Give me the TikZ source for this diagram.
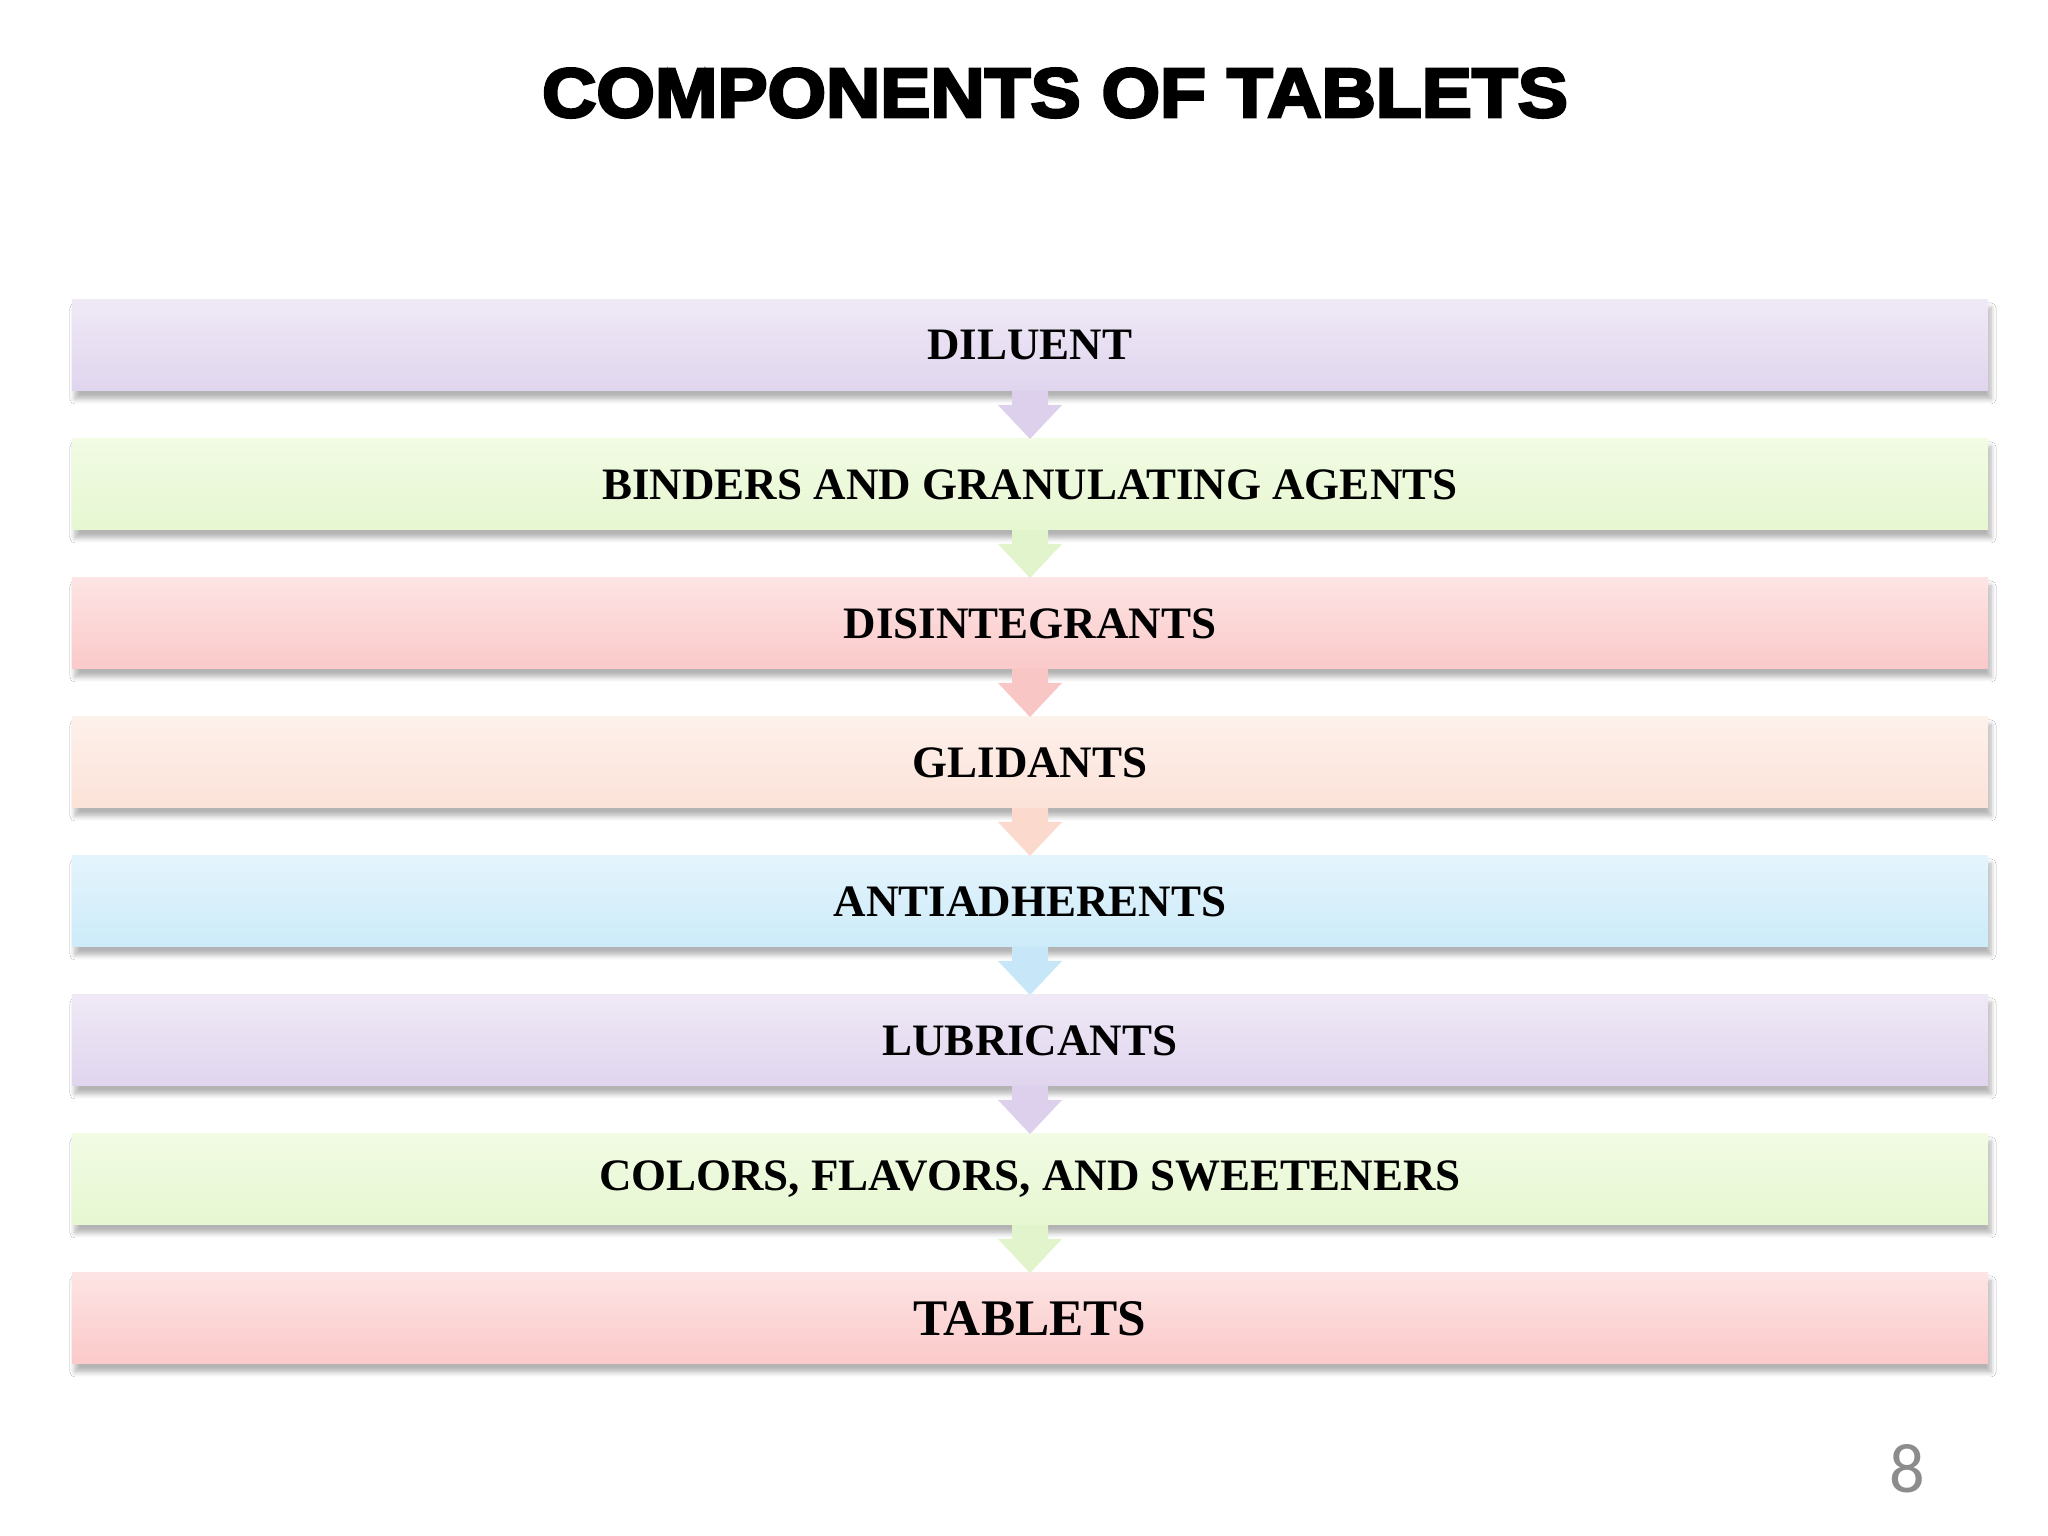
\documentclass[tikz,border=0pt]{standalone}
\usepackage{fontspec}
\setmainfont{Liberation Serif}
\newfontfamily\titlefont{Liberation Sans}[BoldFeatures={FakeBold=4},FakeStretch=1.08]
\newfontfamily\numfont{Carlito}
\usetikzlibrary{positioning,shadows.blur}

\definecolor{lavtop}{HTML}{EFE9F6}
\definecolor{lavbot}{HTML}{E0D5EE}
\definecolor{lavarrow}{HTML}{DCD0EC}
\definecolor{grntop}{HTML}{F2FBE4}
\definecolor{grnbot}{HTML}{E6F7D1}
\definecolor{grnarrow}{HTML}{E2F4CB}
\definecolor{pnktop}{HTML}{FDE4E4}
\definecolor{pnkbot}{HTML}{FBC9C9}
\definecolor{pnkarrow}{HTML}{F9C6C6}
\definecolor{pchtop}{HTML}{FDF1EB}
\definecolor{pchbot}{HTML}{FCE2D8}
\definecolor{pcharrow}{HTML}{FBDACD}
\definecolor{blutop}{HTML}{E4F4FC}
\definecolor{blubot}{HTML}{CCEBF9}
\definecolor{bluarrow}{HTML}{C7E7F8}

\tikzset{
  stage/.style={minimum width=19.16cm, minimum height=0.91cm, inner sep=0pt, outer sep=0pt,
    font=\fontsize{12.8}{15}\selectfont\bfseries,
    blur shadow={shadow xshift=0.3mm, shadow yshift=-0.8mm, shadow blur radius=0.5mm,
      shadow blur steps=6, shadow opacity=30}},
  lav/.style={stage, top color=lavtop, bottom color=lavbot},
  grn/.style={stage, top color=grntop, bottom color=grnbot},
  pnk/.style={stage, top color=pnktop, bottom color=pnkbot},
  pch/.style={stage, top color=pchtop, bottom color=pchbot},
  blu/.style={stage, top color=blutop, bottom color=blubot}
}

\begin{document}
\begin{tikzpicture}
  \useasboundingbox[fill=white] (0,0) rectangle (20.48,15.36);

  % Title
  \node[anchor=base] (title) at (10.55,14.19)
    {\titlefont\bfseries\fontsize{19.8}{24}\selectfont COMPONENTS OF TABLETS};

  % Stages
  \node[lav] (d1) at (10.30,11.905) {DILUENT};
  \node[grn, below=0.48cm of d1] (d2) {BINDERS AND GRANULATING AGENTS};
  \node[pnk, below=0.48cm of d2] (d3) {DISINTEGRANTS};
  \node[pch, below=0.48cm of d3] (d4) {GLIDANTS};
  \node[blu, below=0.48cm of d4] (d5) {ANTIADHERENTS};
  \node[lav, below=0.48cm of d5] (d6) {LUBRICANTS};
  \node[grn, below=0.48cm of d6] (d7) {COLORS, FLAVORS, AND SWEETENERS};
  \node[pnk, below=0.48cm of d7, font=\fontsize{14.6}{17}\selectfont\bfseries] (d8) {TABLETS};

  % Block arrows
  \foreach \a/\b/\c in {d1/d2/lavarrow, d2/d3/grnarrow, d3/d4/pnkarrow, d4/d5/pcharrow,
                        d5/d6/bluarrow, d6/d7/lavarrow, d7/d8/grnarrow} {
    \fill[\c] ([xshift=-1.8mm]\a.south) -- ([xshift=-1.8mm,yshift=-1.4mm]\a.south)
      -- ([xshift=-3.2mm,yshift=-1.4mm]\a.south) -- (\b.north)
      -- ([xshift=3.2mm,yshift=-1.4mm]\a.south) -- ([xshift=1.8mm,yshift=-1.4mm]\a.south)
      -- ([xshift=1.8mm]\a.south) -- cycle;
  }

  % Page number
  \node[anchor=base, text=black!45] (page) at (19.07,0.43)
    {\numfont\fontsize{20}{24}\selectfont 8};
\end{tikzpicture}
\end{document}
